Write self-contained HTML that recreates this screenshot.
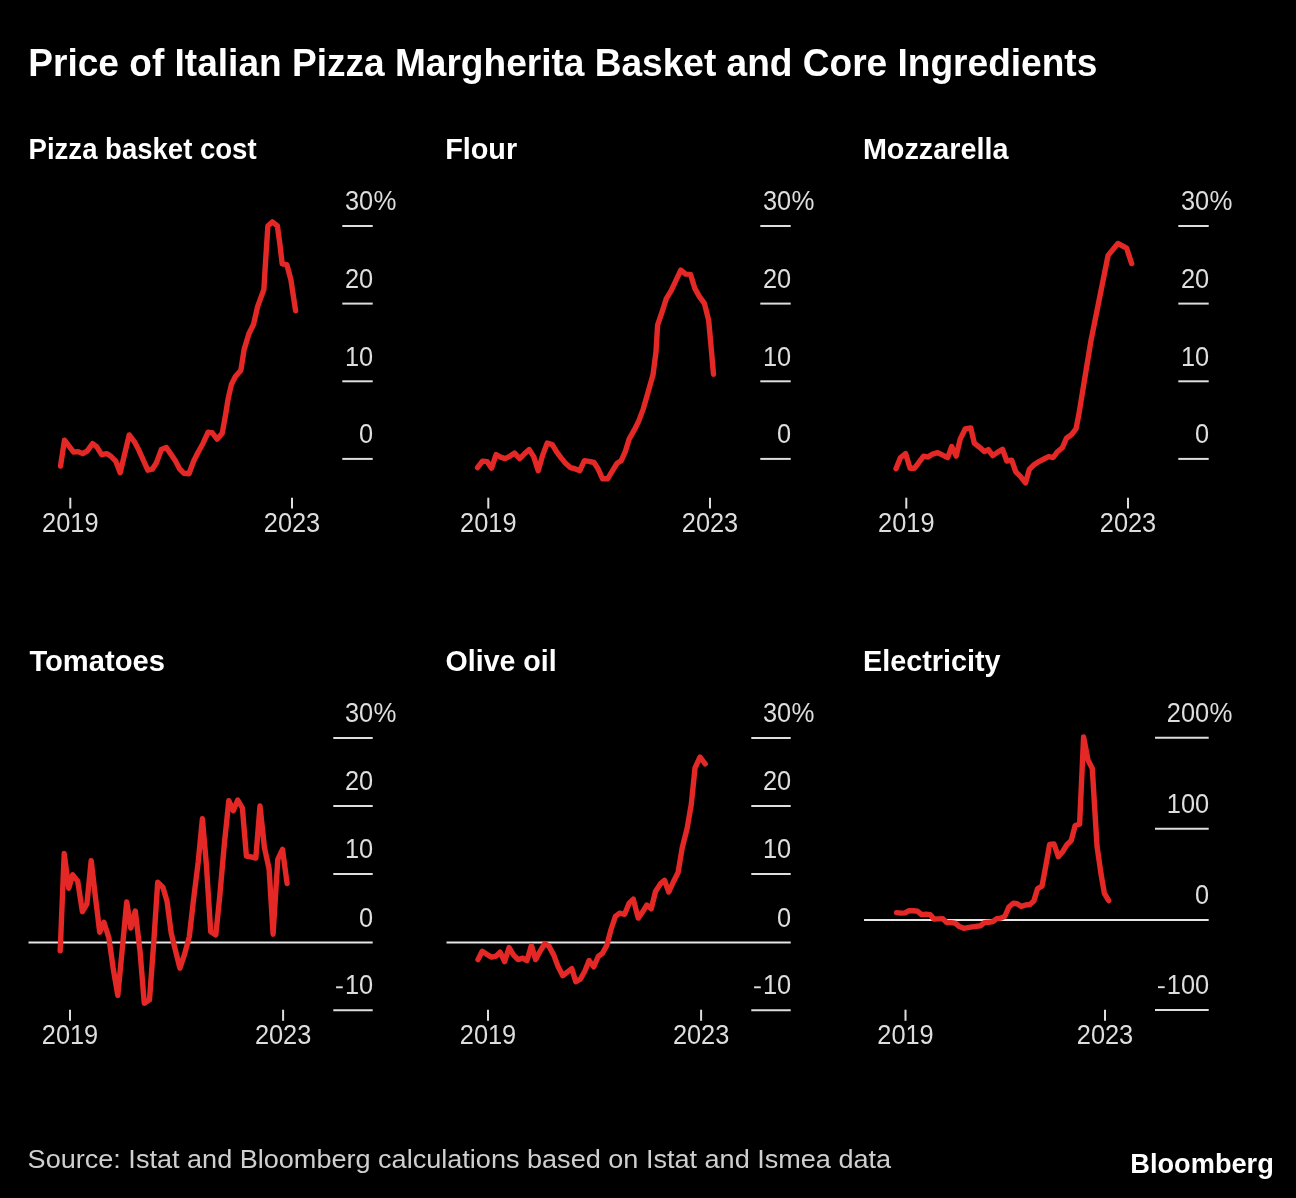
<!DOCTYPE html>
<html lang="en">
<head>
<meta charset="utf-8">
<title>Price of Italian Pizza Margherita Basket and Core Ingredients</title>
<style>
html,body{margin:0;padding:0;background:#000;}
body{width:1296px;height:1198px;overflow:hidden;}
svg{display:block;font-family:"Liberation Sans",sans-serif;will-change:transform;}
</style>
</head>
<body>
<svg width="1296" height="1198" viewBox="0 0 1296 1198">
<rect x="0" y="0" width="1296" height="1198" fill="#000"/>
<text x="28.3" y="76.2" font-size="39" font-weight="bold" fill="#fff" textLength="1069" lengthAdjust="spacingAndGlyphs">Price of Italian Pizza Margherita Basket and Core Ingredients</text>
<text x="28.6" y="158.9" font-size="29" font-weight="bold" fill="#fff" textLength="228" lengthAdjust="spacingAndGlyphs">Pizza basket cost</text>
<line x1="342.3" y1="226.0" x2="372.7" y2="226.0" stroke="#dedede" stroke-width="2.0"/>
<text x="344.98" y="210.2" font-size="27" fill="#dedede" textLength="28.22" lengthAdjust="spacingAndGlyphs">30</text>
<text x="373.5" y="210.2" font-size="27" fill="#dedede" textLength="22.96" lengthAdjust="spacingAndGlyphs">%</text>
<line x1="342.3" y1="303.6" x2="372.7" y2="303.6" stroke="#dedede" stroke-width="2.0"/>
<text x="344.98" y="287.8" font-size="27" fill="#dedede" textLength="28.22" lengthAdjust="spacingAndGlyphs">20</text>
<line x1="342.3" y1="381.3" x2="372.7" y2="381.3" stroke="#dedede" stroke-width="2.0"/>
<text x="344.98" y="365.5" font-size="27" fill="#dedede" textLength="28.22" lengthAdjust="spacingAndGlyphs">10</text>
<line x1="342.3" y1="458.9" x2="372.7" y2="458.9" stroke="#dedede" stroke-width="2.0"/>
<text x="359.09" y="443.1" font-size="27" fill="#dedede" textLength="14.11" lengthAdjust="spacingAndGlyphs">0</text>
<line x1="70.3" y1="497.7" x2="70.3" y2="508.6" stroke="#dedede" stroke-width="2.0"/>
<text x="42.08" y="532" font-size="27" fill="#dedede" textLength="56.45" lengthAdjust="spacingAndGlyphs">2019</text>
<line x1="292.0" y1="497.7" x2="292.0" y2="508.6" stroke="#dedede" stroke-width="2.0"/>
<text x="263.78" y="532" font-size="27" fill="#dedede" textLength="56.45" lengthAdjust="spacingAndGlyphs">2023</text>
<polyline points="60.5,466.1 64.5,440.1 73.6,452.1 78.1,451.6 82.6,453.6 87.1,451.1 92.6,443.6 96.6,446.6 101.7,454.6 106.7,453.6 111.2,456.6 115.7,461.1 120.2,472.7 129.2,435.0 134.3,441.6 138.8,450.1 143.3,460.1 147.8,470.2 152.3,469.2 156.3,463.1 161.3,449.6 166.4,447.6 170.9,454.1 175.2,460.5 179.7,469.0 184.0,473.3 189.0,473.8 193.6,461.3 198.1,452.2 203.1,443.2 208.1,432.2 212.1,432.7 217.1,439.2 222.2,433.2 225.2,417.1 228.2,398.5 231.4,384.5 235.4,376.5 240.9,370.2 244.1,349.6 248.9,333.7 253.6,324.2 257.6,306.7 263.9,289.3 265.5,262.3 267.9,225.9 272.3,221.9 277.4,225.9 279.8,243.3 282.2,263.9 286.9,264.7 290.9,279.8 295.6,310.7" fill="none" stroke="#e32826" stroke-width="5.4" stroke-linejoin="round" stroke-linecap="round"/>
<text x="445.20000000000005" y="158.9" font-size="29" font-weight="bold" fill="#fff" textLength="72" lengthAdjust="spacingAndGlyphs">Flour</text>
<line x1="760.3" y1="226.0" x2="790.7" y2="226.0" stroke="#dedede" stroke-width="2.0"/>
<text x="762.98" y="210.2" font-size="27" fill="#dedede" textLength="28.22" lengthAdjust="spacingAndGlyphs">30</text>
<text x="791.5" y="210.2" font-size="27" fill="#dedede" textLength="22.96" lengthAdjust="spacingAndGlyphs">%</text>
<line x1="760.3" y1="303.6" x2="790.7" y2="303.6" stroke="#dedede" stroke-width="2.0"/>
<text x="762.98" y="287.8" font-size="27" fill="#dedede" textLength="28.22" lengthAdjust="spacingAndGlyphs">20</text>
<line x1="760.3" y1="381.3" x2="790.7" y2="381.3" stroke="#dedede" stroke-width="2.0"/>
<text x="762.98" y="365.5" font-size="27" fill="#dedede" textLength="28.22" lengthAdjust="spacingAndGlyphs">10</text>
<line x1="760.3" y1="458.9" x2="790.7" y2="458.9" stroke="#dedede" stroke-width="2.0"/>
<text x="777.09" y="443.1" font-size="27" fill="#dedede" textLength="14.11" lengthAdjust="spacingAndGlyphs">0</text>
<line x1="488.3" y1="497.7" x2="488.3" y2="508.6" stroke="#dedede" stroke-width="2.0"/>
<text x="460.08" y="532" font-size="27" fill="#dedede" textLength="56.45" lengthAdjust="spacingAndGlyphs">2019</text>
<line x1="710.0" y1="497.7" x2="710.0" y2="508.6" stroke="#dedede" stroke-width="2.0"/>
<text x="681.78" y="532" font-size="27" fill="#dedede" textLength="56.45" lengthAdjust="spacingAndGlyphs">2023</text>
<polyline points="477.5,467.6 482.5,461.1 487.1,461.6 491.6,468.1 496.1,454.6 500.6,457.1 505.1,458.6 510.1,456.1 514.6,453.1 519.7,458.6 524.2,454.1 529.2,449.6 533.7,456.6 538.2,470.7 542.7,455.1 547.2,443.1 552.3,444.6 556.8,452.1 561.3,458.1 565.8,463.6 570.3,467.6 574.8,468.7 579.8,470.7 584.4,460.6 589.0,461.3 594.0,462.5 597.7,468.2 602.6,478.8 607.6,478.8 612.1,471.3 617.1,463.3 621.1,460.8 625.1,452.2 629.1,439.2 634.2,430.2 638.7,421.1 643.2,409.1 647.0,396.0 653.0,374.8 656.0,351.8 657.6,325.2 662.1,311.9 666.3,298.6 671.2,290.7 676.0,280.4 680.8,270.1 685.7,274.1 690.5,274.4 694.8,288.3 699.6,296.8 704.4,303.4 708.7,320.4 711.1,347.0 713.5,374.2" fill="none" stroke="#e32826" stroke-width="5.4" stroke-linejoin="round" stroke-linecap="round"/>
<text x="862.9" y="158.9" font-size="29" font-weight="bold" fill="#fff" textLength="145.5" lengthAdjust="spacingAndGlyphs">Mozzarella</text>
<line x1="1178.3" y1="226.0" x2="1208.7" y2="226.0" stroke="#dedede" stroke-width="2.0"/>
<text x="1180.98" y="210.2" font-size="27" fill="#dedede" textLength="28.22" lengthAdjust="spacingAndGlyphs">30</text>
<text x="1209.5" y="210.2" font-size="27" fill="#dedede" textLength="22.96" lengthAdjust="spacingAndGlyphs">%</text>
<line x1="1178.3" y1="303.6" x2="1208.7" y2="303.6" stroke="#dedede" stroke-width="2.0"/>
<text x="1180.98" y="287.8" font-size="27" fill="#dedede" textLength="28.22" lengthAdjust="spacingAndGlyphs">20</text>
<line x1="1178.3" y1="381.3" x2="1208.7" y2="381.3" stroke="#dedede" stroke-width="2.0"/>
<text x="1180.98" y="365.5" font-size="27" fill="#dedede" textLength="28.22" lengthAdjust="spacingAndGlyphs">10</text>
<line x1="1178.3" y1="458.9" x2="1208.7" y2="458.9" stroke="#dedede" stroke-width="2.0"/>
<text x="1195.09" y="443.1" font-size="27" fill="#dedede" textLength="14.11" lengthAdjust="spacingAndGlyphs">0</text>
<line x1="906.3" y1="497.7" x2="906.3" y2="508.6" stroke="#dedede" stroke-width="2.0"/>
<text x="878.08" y="532" font-size="27" fill="#dedede" textLength="56.45" lengthAdjust="spacingAndGlyphs">2019</text>
<line x1="1128.0" y1="497.7" x2="1128.0" y2="508.6" stroke="#dedede" stroke-width="2.0"/>
<text x="1099.78" y="532" font-size="27" fill="#dedede" textLength="56.45" lengthAdjust="spacingAndGlyphs">2023</text>
<polyline points="896.0,468.7 900.5,457.6 905.6,453.6 910.1,468.2 914.6,468.2 919.1,462.1 923.6,456.1 928.1,457.1 932.6,454.1 937.7,452.6 942.7,455.1 947.7,457.6 951.7,446.6 956.2,456.1 960.2,439.1 965.2,429.0 970.8,428.0 974.3,443.1 979.3,447.1 984.3,451.6 988.3,449.6 992.8,455.6 997.8,452.1 1002.5,449.3 1006.8,461.0 1011.7,460.2 1015.8,471.8 1020.4,476.4 1025.5,482.9 1029.3,469.4 1034.0,464.8 1039.4,461.3 1044.0,459.0 1048.6,456.7 1053.2,457.5 1057.5,451.7 1062.5,447.5 1066.4,438.2 1071.4,434.7 1076.0,428.9 1078.7,415.4 1090.9,341.0 1108.1,255.4 1117.9,243.5 1126.6,248.2 1131.7,263.6" fill="none" stroke="#e32826" stroke-width="5.4" stroke-linejoin="round" stroke-linecap="round"/>
<text x="29.400000000000002" y="671.4" font-size="29" font-weight="bold" fill="#fff" textLength="135.5" lengthAdjust="spacingAndGlyphs">Tomatoes</text>
<line x1="333.3" y1="737.9" x2="372.7" y2="737.9" stroke="#dedede" stroke-width="2.0"/>
<text x="344.98" y="722.1" font-size="27" fill="#dedede" textLength="28.22" lengthAdjust="spacingAndGlyphs">30</text>
<text x="373.5" y="722.1" font-size="27" fill="#dedede" textLength="22.96" lengthAdjust="spacingAndGlyphs">%</text>
<line x1="333.3" y1="806.0" x2="372.7" y2="806.0" stroke="#dedede" stroke-width="2.0"/>
<text x="344.98" y="790.2" font-size="27" fill="#dedede" textLength="28.22" lengthAdjust="spacingAndGlyphs">20</text>
<line x1="333.3" y1="874.1" x2="372.7" y2="874.1" stroke="#dedede" stroke-width="2.0"/>
<text x="344.98" y="858.3" font-size="27" fill="#dedede" textLength="28.22" lengthAdjust="spacingAndGlyphs">10</text>
<line x1="28.5" y1="942.5" x2="372.7" y2="942.5" stroke="#e6e6e6" stroke-width="2.0"/>
<text x="359.09" y="926.7" font-size="27" fill="#dedede" textLength="14.11" lengthAdjust="spacingAndGlyphs">0</text>
<line x1="333.3" y1="1010.2" x2="372.7" y2="1010.2" stroke="#dedede" stroke-width="2.0"/>
<text x="344.98" y="994.4" font-size="27" fill="#dedede" textLength="28.22" lengthAdjust="spacingAndGlyphs">10</text>
<line x1="336.08" y1="987.30" x2="342.78" y2="987.30" stroke="#dedede" stroke-width="1.9"/>
<line x1="70.0" y1="1009.7" x2="70.0" y2="1020.8" stroke="#dedede" stroke-width="2.0"/>
<text x="41.78" y="1044" font-size="27" fill="#dedede" textLength="56.45" lengthAdjust="spacingAndGlyphs">2019</text>
<line x1="283.1" y1="1009.7" x2="283.1" y2="1020.8" stroke="#dedede" stroke-width="2.0"/>
<text x="254.88" y="1044" font-size="27" fill="#dedede" textLength="56.45" lengthAdjust="spacingAndGlyphs">2023</text>
<polyline points="60.2,950.7 64.2,853.5 68.7,888.2 72.7,874.8 77.7,881.2 82.4,911.7 86.9,903.9 91.2,860.6 95.4,896.8 99.7,932.2 103.9,922.3 108.9,937.9 113.1,967.7 117.8,995.4 122.4,947.8 126.7,902.0 130.8,928.0 135.3,911.0 140.1,952.0 144.3,1003.2 149.5,999.7 153.6,944.8 157.7,882.3 163.0,887.5 167.1,901.6 171.2,933.1 175.8,951.8 179.9,968.2 184.6,954.1 189.3,936.6 193.5,900.0 198.2,862.0 202.4,818.7 206.4,864.8 210.7,931.7 215.8,934.9 219.7,896.8 224.4,843.4 228.8,800.7 233.3,810.7 237.7,800.0 242.4,808.0 246.4,856.1 251.1,856.8 255.8,858.1 260.0,806.0 264.4,847.4 269.1,868.8 273.1,934.2 277.8,859.4 282.5,849.4 287.1,883.5" fill="none" stroke="#e32826" stroke-width="5.4" stroke-linejoin="round" stroke-linecap="round"/>
<text x="445.6" y="671.4" font-size="29" font-weight="bold" fill="#fff" textLength="111" lengthAdjust="spacingAndGlyphs">Olive oil</text>
<line x1="751.3" y1="737.9" x2="790.7" y2="737.9" stroke="#dedede" stroke-width="2.0"/>
<text x="762.98" y="722.1" font-size="27" fill="#dedede" textLength="28.22" lengthAdjust="spacingAndGlyphs">30</text>
<text x="791.5" y="722.1" font-size="27" fill="#dedede" textLength="22.96" lengthAdjust="spacingAndGlyphs">%</text>
<line x1="751.3" y1="806.0" x2="790.7" y2="806.0" stroke="#dedede" stroke-width="2.0"/>
<text x="762.98" y="790.2" font-size="27" fill="#dedede" textLength="28.22" lengthAdjust="spacingAndGlyphs">20</text>
<line x1="751.3" y1="874.1" x2="790.7" y2="874.1" stroke="#dedede" stroke-width="2.0"/>
<text x="762.98" y="858.3" font-size="27" fill="#dedede" textLength="28.22" lengthAdjust="spacingAndGlyphs">10</text>
<line x1="446.5" y1="942.5" x2="790.7" y2="942.5" stroke="#e6e6e6" stroke-width="2.0"/>
<text x="777.09" y="926.7" font-size="27" fill="#dedede" textLength="14.11" lengthAdjust="spacingAndGlyphs">0</text>
<line x1="751.3" y1="1010.2" x2="790.7" y2="1010.2" stroke="#dedede" stroke-width="2.0"/>
<text x="762.98" y="994.4" font-size="27" fill="#dedede" textLength="28.22" lengthAdjust="spacingAndGlyphs">10</text>
<line x1="754.08" y1="987.30" x2="760.78" y2="987.30" stroke="#dedede" stroke-width="1.9"/>
<line x1="488.0" y1="1009.7" x2="488.0" y2="1020.8" stroke="#dedede" stroke-width="2.0"/>
<text x="459.78" y="1044" font-size="27" fill="#dedede" textLength="56.45" lengthAdjust="spacingAndGlyphs">2019</text>
<line x1="701.1" y1="1009.7" x2="701.1" y2="1020.8" stroke="#dedede" stroke-width="2.0"/>
<text x="672.88" y="1044" font-size="27" fill="#dedede" textLength="56.45" lengthAdjust="spacingAndGlyphs">2023</text>
<polyline points="478.0,959.6 482.2,951.3 487.1,954.6 491.6,957.1 496.1,956.1 500.1,952.1 504.6,961.6 509.1,947.6 513.6,955.1 518.1,959.6 522.7,958.1 527.0,960.6 531.4,945.6 535.7,959.6 540.2,951.1 544.7,943.6 549.2,946.6 553.8,955.1 558.3,967.1 562.8,975.7 567.3,972.1 571.8,968.6 575.8,981.7 580.3,979.2 584.9,971.0 589.1,960.5 593.8,966.8 598.2,956.5 602.4,953.3 606.7,945.7 611.0,929.5 615.4,916.4 619.7,913.2 624.6,914.3 629.0,903.4 633.3,899.1 638.2,918.1 642.5,912.1 646.9,905.0 651.2,908.8 655.5,891.5 660.4,883.9 664.5,880.3 668.8,892.0 673.3,882.0 678.1,872.5 682.2,847.9 687.1,828.5 691.3,804.3 695.0,768.0 700.0,757.1 705.2,763.8" fill="none" stroke="#e32826" stroke-width="5.4" stroke-linejoin="round" stroke-linecap="round"/>
<text x="863.1" y="671.4" font-size="29" font-weight="bold" fill="#fff" textLength="137.5" lengthAdjust="spacingAndGlyphs">Electricity</text>
<line x1="1155" y1="737.7" x2="1208.7" y2="737.7" stroke="#dedede" stroke-width="2.0"/>
<text x="1166.87" y="721.9" font-size="27" fill="#dedede" textLength="42.33" lengthAdjust="spacingAndGlyphs">200</text>
<text x="1209.5" y="721.9" font-size="27" fill="#dedede" textLength="22.96" lengthAdjust="spacingAndGlyphs">%</text>
<line x1="1155" y1="828.8" x2="1208.7" y2="828.8" stroke="#dedede" stroke-width="2.0"/>
<text x="1166.87" y="813.0" font-size="27" fill="#dedede" textLength="42.33" lengthAdjust="spacingAndGlyphs">100</text>
<line x1="864" y1="919.9" x2="1208.7" y2="919.9" stroke="#e6e6e6" stroke-width="2.0"/>
<text x="1195.09" y="904.1" font-size="27" fill="#dedede" textLength="14.11" lengthAdjust="spacingAndGlyphs">0</text>
<line x1="1155" y1="1010.1" x2="1208.7" y2="1010.1" stroke="#dedede" stroke-width="2.0"/>
<text x="1166.87" y="994.3" font-size="27" fill="#dedede" textLength="42.33" lengthAdjust="spacingAndGlyphs">100</text>
<line x1="1157.97" y1="987.20" x2="1164.67" y2="987.20" stroke="#dedede" stroke-width="1.9"/>
<line x1="905.5" y1="1009.7" x2="905.5" y2="1020.8" stroke="#dedede" stroke-width="2.0"/>
<text x="877.28" y="1044" font-size="27" fill="#dedede" textLength="56.45" lengthAdjust="spacingAndGlyphs">2019</text>
<line x1="1105.0" y1="1009.7" x2="1105.0" y2="1020.8" stroke="#dedede" stroke-width="2.0"/>
<text x="1076.78" y="1044" font-size="27" fill="#dedede" textLength="56.45" lengthAdjust="spacingAndGlyphs">2023</text>
<polyline points="896.5,912.6 901.0,913.1 905.1,912.9 909.1,910.6 913.6,910.8 917.6,911.3 921.6,914.6 926.1,914.1 930.1,914.6 934.1,919.1 938.2,918.9 942.7,918.6 946.7,922.6 951.2,922.6 955.2,923.1 959.4,926.6 963.7,928.3 967.7,927.6 972.3,926.9 976.3,926.3 980.3,925.9 984.3,922.6 988.8,922.3 992.8,921.6 996.8,918.6 1000.9,918.1 1004.9,916.3 1008.9,907.0 1013.3,903.2 1017.2,903.7 1021.3,906.4 1025.6,905.0 1030.0,904.5 1033.8,901.1 1037.6,888.6 1042.0,886.2 1045.8,866.1 1049.6,844.5 1054.0,844.0 1058.3,856.7 1062.6,851.7 1066.9,844.8 1071.2,840.6 1075.2,825.5 1079.6,824.2 1083.6,737.0 1088.0,760.0 1092.3,768.5 1097.0,846.0 1101.0,873.8 1104.4,893.4 1108.7,900.6" fill="none" stroke="#e32826" stroke-width="5.4" stroke-linejoin="round" stroke-linecap="round"/>
<text x="27.6" y="1167.8" font-size="26.5" fill="#cfcfcf" textLength="863.5" lengthAdjust="spacingAndGlyphs">Source: Istat and Bloomberg calculations based on Istat and Ismea data</text>
<text x="1130.3" y="1173.2" font-size="28.5" font-weight="bold" fill="#fff" textLength="143.5" lengthAdjust="spacingAndGlyphs">Bloomberg</text>
</svg>
</body>
</html>
